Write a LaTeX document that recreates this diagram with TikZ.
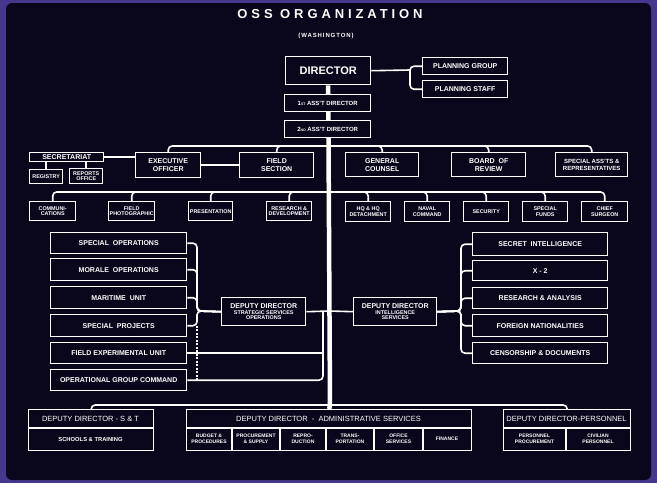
\documentclass[tikz,border=0pt]{standalone}
\usepackage{fontspec}
\setmainfont{Liberation Sans}
\begin{document}
\begin{tikzpicture}[x=1pt,y=-1pt,
  ln/.style={draw=white,line width=1.6pt,rounded corners=4pt},
  box/.style={draw=white,line width=1.4pt,fill=bg,text=white,anchor=north west,inner sep=1pt,align=center,font=\bfseries\fontsize{6}{6.5}\selectfont},
  sm/.style={font=\bfseries\fontsize{5.4}{5.8}\selectfont},
  md/.style={font=\bfseries\fontsize{7}{8}\selectfont},
  txt/.style={text=white,align=center,inner sep=0pt}]
\definecolor{bg}{RGB}{10,6,28}
\definecolor{edge}{RGB}{70,55,140}
\fill[edge] (0,0) rectangle (657,483);
\fill[bg,rounded corners=6pt] (6,3) rectangle (651,480);
\useasboundingbox (0,0) rectangle (657,483);
\node[txt,font=\bfseries\fontsize{13}{14}\selectfont\addfontfeatures{LetterSpace=30}] (title) at (330,14) {OSS ORGANIZATION};
\node[txt,font=\bfseries\fontsize{6}{7}\selectfont\addfontfeatures{LetterSpace=15}] (wash) at (326,36) {(WASHINGTON)};
% top
\node[box,minimum width=85,minimum height=28,font=\bfseries\fontsize{11}{12}\selectfont] (dir) at (285,56) {DIRECTOR};
\node[box,md,minimum width=85,minimum height=17] (pg) at (422,57) {PLANNING GROUP};
\node[box,md,minimum width=85,minimum height=17] (ps) at (422,80) {PLANNING STAFF};
\coordinate (bot) at (330,405);
\draw[white,line width=4.5pt] (dir.south) -- (bot);
\node[box,minimum width=86,minimum height=17] (a1) at (284,94) {1{\fontsize{3.5}{4}\selectfont ST} ASS'T DIRECTOR};
\node[box,minimum width=86,minimum height=17] (a2) at (284,120) {2{\fontsize{3.5}{4}\selectfont ND} ASS'T DIRECTOR};
\coordinate (pj) at (410,70);
\draw[ln] (dir.east) -- (pj);
\draw[ln] (pj) |- (pg.west);
\draw[ln] (pj) |- (ps.west);
% row 1
\node[box,md,minimum width=74,minimum height=9] (sec) at (29,152) {SECRETARIAT};
\node[box,sm,minimum width=33,minimum height=14] (reg) at (29,169) {REGISTRY};
\node[box,sm,minimum width=33,minimum height=15] (rep) at (69,168) {REPORTS\\OFFICE};
\node[box,md,minimum width=65,minimum height=25] (exo) at (135,152) {EXECUTIVE\\OFFICER};
\node[box,md,minimum width=74,minimum height=25] (fs) at (239,152) {FIELD\\SECTION};
\node[box,md,minimum width=73,minimum height=24] (gc) at (345,152) {GENERAL\\COUNSEL};
\node[box,md,minimum width=74,minimum height=24] (br) at (451,152) {BOARD \ OF\\REVIEW};
\node[box,minimum width=72,minimum height=24] (sa) at (555,152) {SPECIAL ASS'TS \&\\REPRESENTATIVES};
\coordinate (r1) at (330,146);
\foreach \n in {exo,fs,gc,br,sa} \draw[ln] (r1) -| (\n.north);
\draw[ln] (exo.east) -- (fs.west);
\draw[ln] (sec.east) -- (exo.west|-sec.east);
\draw[ln] (reg.north) -- (reg.north|-sec.south);
\draw[ln] (rep.north) -- (rep.north|-sec.south);
% row 2
\node[box,sm,minimum width=46,minimum height=19] (com) at (29,201) {COMMUNI-\\CATIONS};
\node[box,sm,minimum width=45,minimum height=19] (fp) at (108,201) {FIELD\\PHOTOGRAPHIC};
\node[box,sm,minimum width=44,minimum height=19] (pre) at (188,201) {PRESENTATION};
\node[box,sm,minimum width=45,minimum height=19] (rd) at (266,201) {RESEARCH \&\\DEVELOPMENT};
\node[box,sm,minimum width=45,minimum height=20] (hq) at (345,201) {HQ \& HQ\\DETACHMENT};
\node[box,sm,minimum width=45,minimum height=20] (nc) at (404,201) {NAVAL\\COMMAND};
\node[box,sm,minimum width=45,minimum height=20] (scy) at (463,201) {SECURITY};
\node[box,sm,minimum width=45,minimum height=20] (sf) at (522,201) {SPECIAL\\FUNDS};
\node[box,sm,minimum width=46,minimum height=20] (cs) at (581,201) {CHIEF\\SURGEON};
\coordinate (r2) at (330,192);
\foreach \n in {com,fp,pre,rd,hq,nc,scy,sf,cs} \draw[ln] (r2) -| (\n.north);
% left group
\foreach \n/\y/\h/\t in {so/232/21/SPECIAL \ OPERATIONS,mo/258/22/MORALE \ OPERATIONS,mu/286/22/MARITIME \ UNIT,sp/314/22/SPECIAL \ PROJECTS,feu/342/21/FIELD EXPERIMENTAL UNIT,ogc/369/21/OPERATIONAL GROUP COMMAND}
  \node[box,md,minimum width=136,minimum height=\h] (\n) at (50,\y) {\t};
\node[box,minimum width=84,minimum height=28] (dds) at (221,297) {\fontsize{7}{8}\selectfont DEPUTY DIRECTOR\\[-1pt]{\fontsize{5.4}{5.8}\selectfont STRATEGIC SERVICES}\\[-1pt]{\fontsize{5.4}{5.8}\selectfont OPERATIONS}};
\coordinate (lb) at (197,311);
\foreach \n in {so,mo,mu,sp} \draw[ln] (dds.west) -- (lb) |- (\n.east);
\draw[ln] (dds.east) -- (330,311);
\draw[white,line width=1.2pt,dash pattern=on 2pt off 1.5pt] (sp.east-|lb) -- (ogc.east-|lb);
\coordinate (lv) at (323,311);
\draw[ln] (lv) |- (ogc.east);
\draw[ln] (feu.east) -- (feu.east-|lv);
% right group
\foreach \n/\y/\h/\t in {si/232/23/SECRET \ INTELLIGENCE,x2/260/20/X - 2,ra/287/21/RESEARCH \& ANALYSIS,fn/314/22/FOREIGN NATIONALITIES,cd/342/21/CENSORSHIP \& DOCUMENTS}
  \node[box,md,minimum width=135,minimum height=\h] (\n) at (472,\y) {\t};
\node[box,minimum width=83,minimum height=28] (ddi) at (353,297) {\fontsize{7}{8}\selectfont DEPUTY DIRECTOR\\[-1pt]{\fontsize{5.4}{5.8}\selectfont INTELLIGENCE}\\[-1pt]{\fontsize{5.4}{5.8}\selectfont SERVICES}};
\draw[ln] (ddi.west) -- (330,311);
\coordinate (rb) at (461,311);
\foreach \n in {si,x2,ra,fn,cd} \draw[ln] (ddi.east) -- (rb) |- (\n.west);
% bottom
\node[box,minimum width=125,minimum height=41] (st) at (28,409) {};
\node[box,minimum width=285,minimum height=41] (adm) at (186,409) {};
\node[box,minimum width=127,minimum height=41] (per) at (503,409) {};
\draw[ln] (bot) -| (st.north);
\draw[ln] (bot) -| (per.north);
\draw[white,line width=4.5pt] (bot) -- (adm.north);
\draw[white,line width=1.2pt] (28,428) -- (153,428) (186,428) -- (471,428) (503,428) -- (630,428);
\foreach \x in {232,280,326,374,423} \draw[white,line width=1.2pt] (\x,428) -- (\x,450);
\draw[white,line width=1.2pt] (566,428) -- (566,450);
\node[txt,font=\fontsize{7.5}{8}\selectfont] (t1) at (90.5,418.5) {DEPUTY DIRECTOR - S \& T};
\node[txt,font=\bfseries\fontsize{5.8}{6}\selectfont] (t2) at (90.5,439) {SCHOOLS \& TRAINING};
\node[txt,font=\fontsize{7.5}{8}\selectfont] (t3) at (328.5,418.5) {DEPUTY DIRECTOR \ - \ ADMINISTRATIVE SERVICES};
\node[txt,font=\fontsize{7.5}{8}\selectfont] (t4) at (566.5,418.5) {DEPUTY DIRECTOR-PERSONNEL};
\foreach \c/\t in {209/{BUDGET \&\\PROCEDURES},256/{PROCUREMENT\\\& SUPPLY},303/{REPRO-\\DUCTION},350/{TRANS-\\PORTATION},398.5/{OFFICE\\SERVICES},447/{FINANCE},534.5/{PERSONNEL\\PROCUREMENT},598/{CIVILIAN\\PERSONNEL}}
  \node[txt,font=\bfseries\fontsize{5}{6}\selectfont] at (\c,439) {\t};
\end{tikzpicture}
\end{document}
